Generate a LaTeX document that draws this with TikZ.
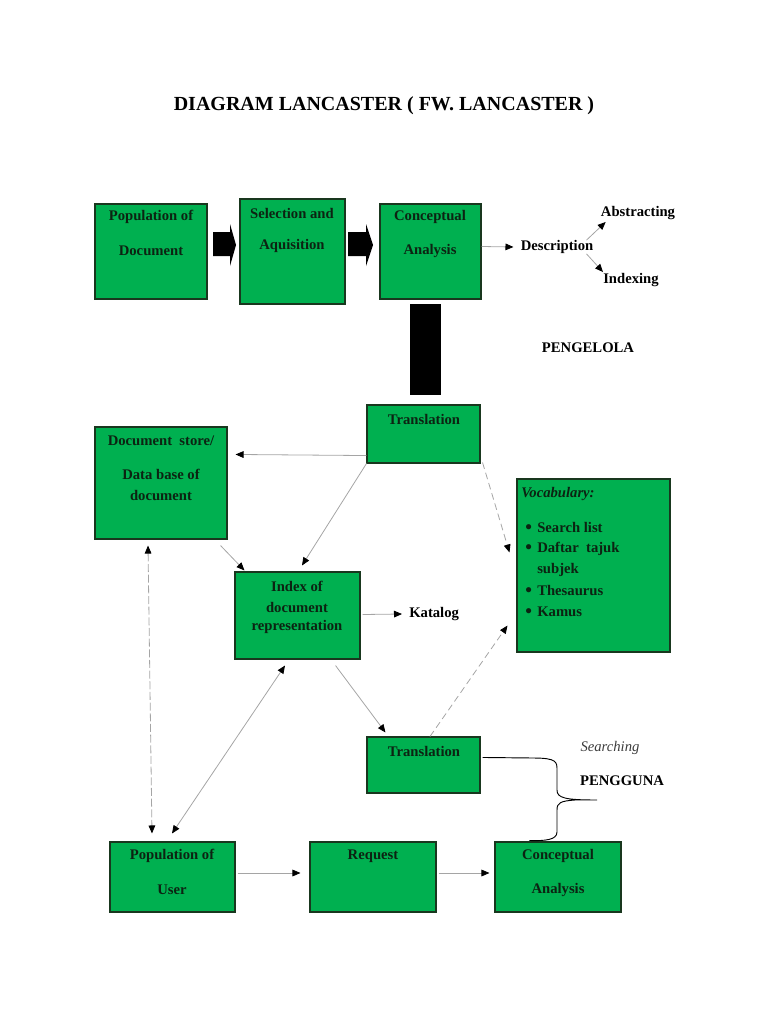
\documentclass[tikz,border=0pt]{standalone}
\usepackage{fontspec}
\setmainfont{Liberation Serif}
\usetikzlibrary{arrows.meta,calc,fit}
\definecolor{boxgreen}{RGB}{0,176,80}
\definecolor{boxedge}{RGB}{25,55,30}
\definecolor{boxtext}{RGB}{12,35,18}
\definecolor{linegray}{RGB}{165,165,165}
\newcommand{\vbul}{\raisebox{-1pt}{\scalebox{1.3}{\textbullet}}\hspace{4pt}}
\begin{document}
\begin{tikzpicture}[x=0.75pt,y=-0.75pt,
  box/.style={draw=boxedge,fill=boxgreen,line width=0.8pt,inner sep=0pt},
  btxt/.style={font=\bfseries\fontsize{11}{13}\selectfont,text=boxtext,inner sep=0pt},
  otxt/.style={font=\bfseries\fontsize{11}{13}\selectfont,text=black,inner sep=0pt},
  conn/.style={draw=linegray,line width=0.6pt,-{Triangle[black,length=6pt,width=5pt]}},
  dconn/.style={conn,dash pattern=on 5pt off 3pt},
  biconn/.style={draw=linegray,line width=0.6pt,{Triangle[black,length=6pt,width=5pt]}-{Triangle[black,length=6pt,width=5pt]}},
  blk/.style={fill=black}]
\useasboundingbox (0,0) rectangle (768,1024);

% title
\node[font=\bfseries\fontsize{15}{18}\selectfont,inner sep=0pt] (title) at (384,106) {DIAGRAM LANCASTER ( FW. LANCASTER )};

% boxes
\node[box,fit={(95,204)(207,299)}] (b1) {};
\node[box,fit={(240,199)(345,304)}] (b2) {};
\node[box,fit={(380,204)(481,299)}] (b3) {};
\node[box,fit={(367,405)(480,463)}] (tr1) {};
\node[box,fit={(95,427)(227,539)}] (ds) {};
\node[box,fit={(517,479)(670,652)}] (voc) {};
\node[box,fit={(235,572)(360,659)}] (idx) {};
\node[box,fit={(367,737)(480,793)}] (tr2) {};
\node[box,fit={(110,842)(235,912)}] (pu) {};
\node[box,fit={(310,842)(436,912)}] (req) {};
\node[box,fit={(495,842)(621,912)}] (ca2) {};

% box texts
\node[btxt] (b1a) at (151,217) {Population of};
\node[btxt] (b1b) at (151,251) {Document};
\node[btxt] (b2a) at (292,213) {Selection and};
\node[btxt] (b2b) at (292,246) {Aquisition};
\node[btxt] (b3a) at (430,217) {Conceptual};
\node[btxt] (b3b) at (430,251) {Analysis};
\node[btxt] (tr1a) at (424,419) {Translation};
\node[btxt] (dsa) at (161,441) {Document\ \ store/};
\node[btxt] (dsb) at (161,474) {Data base of};
\node[btxt] (dsc) at (161,495) {document};
\node[btxt] (idxa) at (297,586) {Index of};
\node[btxt] (idxb) at (297,607) {document};
\node[btxt] (idxc) at (297,627) {representation};
\node[btxt] (tr2a) at (424,751) {Translation};
\node[btxt] (pua) at (172,856) {Population of};
\node[btxt] (pub) at (172,890) {User};
\node[btxt] (reqa) at (373,856) {Request};
\node[btxt] (ca2a) at (558,856) {Conceptual};
\node[btxt] (ca2b) at (558,890) {Analysis};

% vocabulary
\node[btxt,anchor=west,font=\bfseries\itshape\fontsize{11}{13}\selectfont] (v0) at (521,494) {Vocabulary:};
\node[btxt,anchor=west] (v1) at (525,528) {\vbul Search list};
\node[btxt,anchor=west] (v2) at (525,549) {\vbul Daftar\ \ tajuk};
\node[btxt,anchor=west] (v3) at (537,570) {subjek};
\node[btxt,anchor=west] (v4) at (525,591) {\vbul Thesaurus};
\node[btxt,anchor=west] (v5) at (525,612) {\vbul Kamus};

% outside texts
\node[otxt] (desc) at (557,247) {Description};
\node[otxt] (abs) at (638,213) {Abstracting};
\node[otxt] (ind) at (631,280) {Indexing};
\node[otxt,anchor=west] (kat) at (409,614) {Katalog};
\node[otxt] (peng) at (588,348) {PENGELOLA};
\node[font=\itshape\fontsize{11}{13}\selectfont,text={rgb,255:red,60;green,60;blue,60},inner sep=0pt] (srch) at (610,748) {Searching};
\node[otxt] (pengg) at (622,781) {PENGGUNA};

% block arrows and bar
\fill[blk] (213,232) -- (230,232) -- (230,224) -- (236,245) -- (230,266) -- (230,256) -- (213,256) -- cycle;
\fill[blk] (348,232) -- (366,232) -- (366,224) -- (373,245) -- (366,266) -- (366,256) -- (348,256) -- cycle;
\fill[blk] (410,304) rectangle (441,395);

% connectors top
\draw[conn] ($(b3.east)+(0,-5)$) -- ($(desc.west)+(-7,0)$);
\draw[conn] ($(desc.north east)+(-7,0)$) -- ($(abs.south west)+(5,2)$);
\draw[conn] ($(desc.south east)+(-7,0)$) -- ($(ind.north west)+(0,-1)$);

% middle connectors
\draw[conn] ($(tr1.south west)+(0,-8)$) -- ($(ds.north east)+(8,28)$);
\draw[conn] (tr1.south west) -- ($(idx.north)+(4.5,-6)$);
\draw[conn] ($(ds.south east)+(-7,6)$) -- ($(idx.north west)+(10,-1)$);
\draw[dconn] ($(tr1.south east)+(2,-1)$) -- ($(voc.north west)+(-7,74)$);
\draw[conn] ($(idx.east)+(2,-1)$) -- ($(kat.west)+(-7,0)$);
\draw[conn] ($(idx.south east)+(-25,6)$) -- ($(tr2.north west)+(19,-4)$);
\draw[dconn] ($(tr2.north)+(6.5,0)$) -- ($(voc.south west)+(-9,-27)$);
\draw[biconn,dash pattern=on 6pt off 2pt] ($(ds.south)+(-13,6)$) -- ($(pu.north)+(-20.5,-8)$);
\draw[biconn] ($(idx.south)+(-12.5,6)$) -- ($(pu.north)+(-0.5,-8)$);

% bottom connectors
\draw[conn] ($(pu.east)+(2,-4)$) -- ($(req.west)+(-9,-4)$);
\draw[conn] ($(req.east)+(2,-4)$) -- ($(ca2.west)+(-5,-4)$);

% brace
\draw[line width=0.7pt] ($(tr2.north east)+(2,21)$) -- (533,758)
  .. controls (557,758) and (557,762) .. (557,770) -- (557,790)
  .. controls (557,798) and (565,800) .. (597,800)
  -- (575,800) .. controls (560,801) and (557,803) .. (557,810)
  -- (557,832) .. controls (557,840) and (545,841) .. ($(ca2.north west)+(35,-1)$);
\end{tikzpicture}
\end{document}
